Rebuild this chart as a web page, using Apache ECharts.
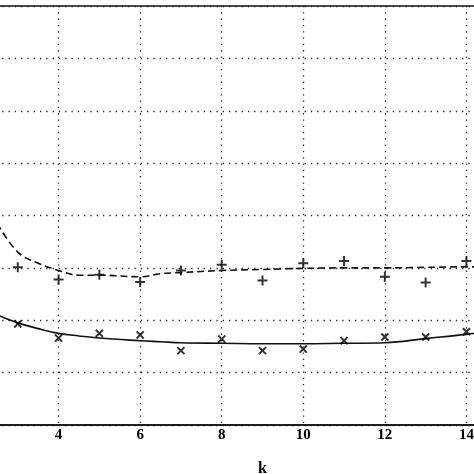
<!DOCTYPE html>
<html>
<head>
<meta charset="utf-8">
<script src="https://cdn.jsdelivr.net/npm/echarts@6/dist/echarts.min.js"></script>
<style>
html,body{margin:0;padding:0;background:#fff;width:474px;height:474px;overflow:hidden;position:relative;}
#chart{position:absolute;left:-23px;top:0;width:620px;height:474px;}
</style>
</head>
<body>
<div id="chart"></div>
<script>
// Data
const kPoints = [3, 4, 5, 6, 7, 8, 9, 10, 11, 12, 13, 14];
const plusValues = [3.01, 2.78, 2.87, 2.73, 2.95, 3.06, 2.76, 3.09, 3.13, 2.83, 2.72, 3.13];
const crossValues = [1.93, 1.66, 1.75, 1.72, 1.42, 1.64, 1.42, 1.45, 1.61, 1.68, 1.68, 1.78];

const curveK = [2.5, 3, 3.5, 4, 4.5, 5, 6, 6.5, 7, 8, 9, 10, 11, 12, 13, 14, 14.5];
const dashedValues = [3.85, 3.3, 3.09, 2.95, 2.86, 2.86, 2.83, 2.89, 2.91, 2.95, 2.97, 2.99, 3.0, 3.0, 3.01, 3.02, 3.02];
const solidValues = [2.1, 1.95, 1.84, 1.75, 1.70, 1.66, 1.61, 1.59, 1.57, 1.56, 1.55, 1.55, 1.56, 1.57, 1.65, 1.73, 1.78];

const xTickLabels = ['4', '6', '8', '10', '12', '14'];

const pair = (xs, ys) => xs.map((x, i) => [x, ys[i]]);

const plusPath = 'path://M4,0h2v4h4v2h-4v4h-2v-4h-4v-2h4z';

const chart = echarts.init(document.getElementById('chart'));
chart.setOption({
  animation: false,
  backgroundColor: '#fff',
  grid: {
    left: 0, top: 6, width: 571, height: 419,
    outerBoundsMode: 'none', containLabel: false,
    show: true, borderColor: '#111', borderWidth: 1.5, backgroundColor: 'transparent'
  },
  xAxis: {
    type: 'value', min: 2, max: 16, interval: 2,
    name: 'k', nameLocation: 'middle', nameGap: 36,
    nameTextStyle: { fontFamily: 'Liberation Serif', fontWeight: 'bold', fontSize: 16, color: '#000' },
    axisLine: { show: true, lineStyle: { color: '#111', width: 1.5 } },
    axisTick: { show: false },
    axisLabel: {
      margin: 3, fontFamily: 'Liberation Serif', fontWeight: 'bold', fontSize: 15, color: '#000',
      formatter: v => xTickLabels.includes(String(v)) ? String(v) : ''
    },
    splitLine: { show: true, lineStyle: { color: '#222', width: 1.3, type: [1.3, 5] } }
  },
  yAxis: {
    type: 'value', min: 0, max: 8, interval: 1,
    axisLine: { show: false }, axisTick: { show: false }, axisLabel: { show: false },
    splitLine: { show: true, lineStyle: { color: '#222', width: 1.3, type: [1.3, 5] } }
  },
  series: [
    {
      type: 'line', data: pair(curveK, dashedValues), smooth: 0.4, showSymbol: false,
      lineStyle: { color: '#111', width: 1.6, type: [7, 4] }, z: 3
    },
    {
      type: 'line', data: pair(curveK, solidValues), smooth: 0.4, showSymbol: false,
      lineStyle: { color: '#111', width: 1.6, type: 'solid' }, z: 3
    },
    {
      type: 'scatter', data: pair(kPoints, plusValues), symbol: plusPath, symbolSize: 10,
      itemStyle: { color: '#000' }, z: 4
    },
    {
      type: 'scatter', data: pair(kPoints, crossValues), symbol: plusPath, symbolSize: 10, symbolRotate: 45,
      itemStyle: { color: '#000' }, z: 4
    }
  ]
});
</script>
</body>
</html>
